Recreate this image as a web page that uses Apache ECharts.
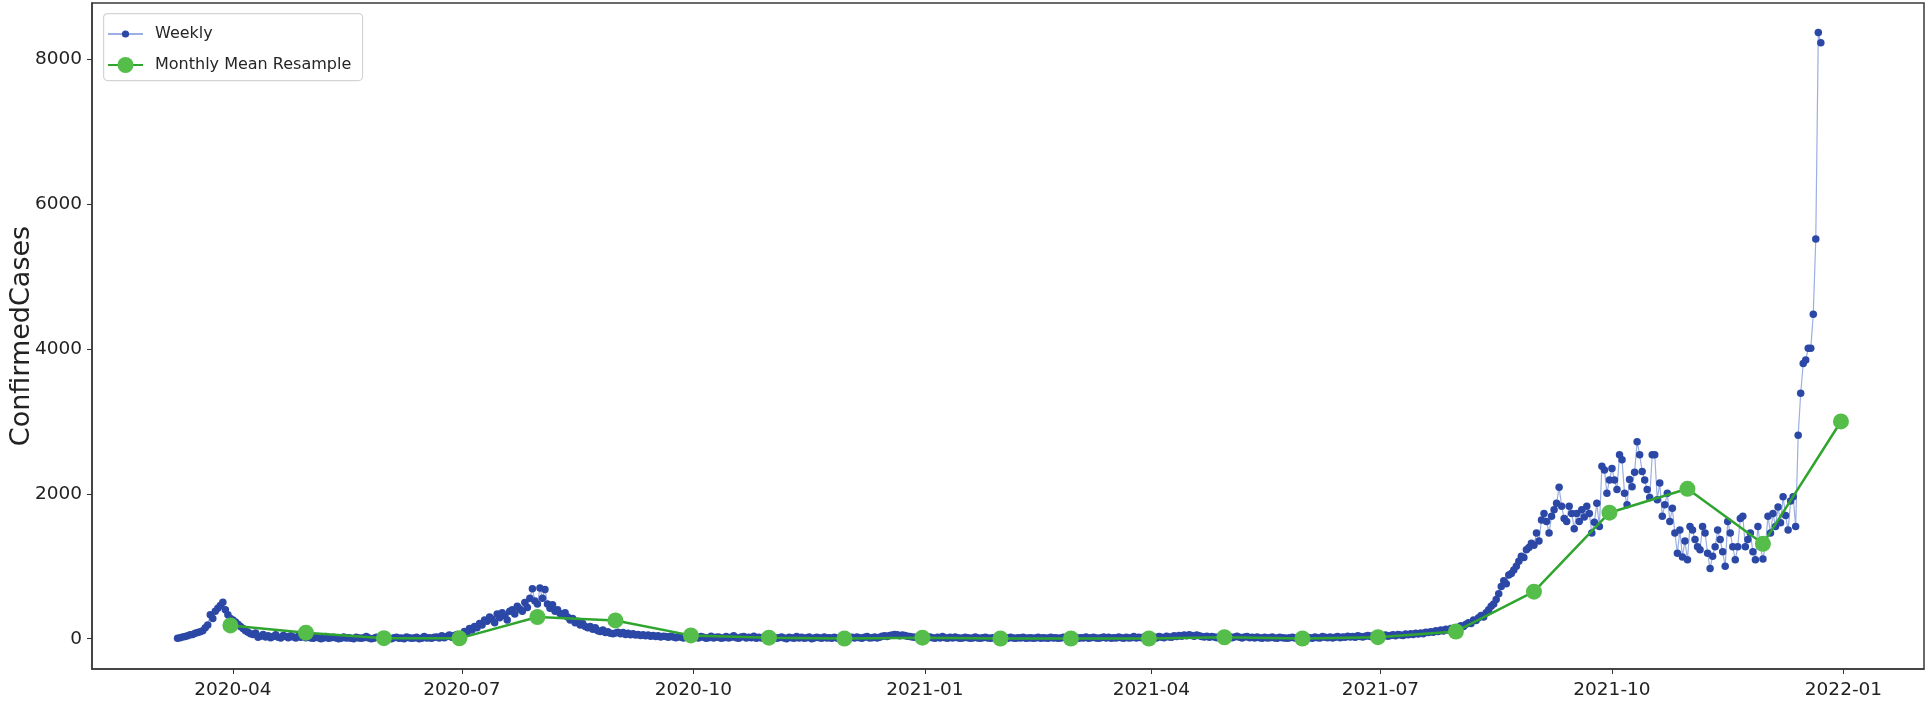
<!DOCTYPE html>
<html>
<head>
<meta charset="utf-8">
<script src="https://cdn.jsdelivr.net/npm/echarts@6/dist/echarts.min.js"></script>
<style>
html,body{margin:0;padding:0;background:#fff;}
#chart{width:1930px;height:709px;}
</style>
</head>
<body>
<div id="chart"></div>
<script>
// ---- Data (daily points of the "Weekly" series, one array per month) ----
const w2020_03 = [5,15,25,30,40,55,60,75,85,95,110,150,190,330,280,380,420,460,505,400,330,280];
const w2020_04 = [260,230,200,170,140,110,90,70,60,80,20,35,60,25,40,15,30,55,20,10,45,30,15,40,25,10,35,20,50,15];
const w2020_05 = [20,10,5,25,15,0,10,30,5,15,20,10,0,5,25,10,15,5,0,20,10,5,15,30,10,0,5,20,10,15,5];
const w2020_06 = [10,5,0,15,20,5,10,0,25,15,5,10,20,0,5,30,10,15,5,20,25,10,40,15,30,50,20,45,60,40];
const w2020_07 = [60,100,80,140,120,170,150,210,190,260,240,300,270,220,340,290,360,320,260,380,400,340,450,410,380,500,430,560,690,520,480];
const w2020_08 = [700,560,680,480,420,470,380,400,350,330,360,300,260,280,220,240,190,210,170,150,170,130,150,110,100,120,85,95,75,70,80];
const w2020_09 = [90,70,85,60,75,55,70,50,60,45,55,40,50,35,45,30,40,25,35,30,20,35,25,15,30,20,10,25,15,20];
const w2020_10 = [15,25,10,30,20,5,15,35,10,20,25,5,15,30,10,20,40,15,5,25,30,10,20,15,35,5,20,10,25,15,20];
const w2020_11 = [10,20,5,15,25,10,0,20,15,5,30,10,20,5,15,25,0,10,20,15,5,25,10,15,5,20,10,0,15,10];
const w2020_12 = [15,5,20,10,25,15,5,20,30,10,15,25,10,20,35,40,30,45,50,60,55,40,50,45,35,30,25,20,15,25,10];
const w2021_01 = [20,10,25,15,5,20,10,30,15,5,20,10,25,15,5,10,20,15,5,10,25,10,5,15,20,10,5,15,10,20,5];
const w2021_02 = [10,15,5,20,10,5,15,10,20,5,10,15,5,10,20,5,15,10,5,20,10,15,5,10,20,15,5,10];
const w2021_03 = [10,20,5,15,10,25,5,15,20,10,5,15,25,10,20,5,15,10,25,15,5,20,10,15,30,10,20,15,25,10,20];
const w2021_04 = [15,25,10,30,20,15,35,25,20,40,30,45,35,50,40,55,45,35,50,40,30,25,35,20,30,25,15,30,20,25];
const w2021_05 = [20,30,15,25,35,20,10,25,30,15,20,10,25,15,5,20,10,15,25,10,5,20,15,10,5,15,20,10,5,15,10];
const w2021_06 = [10,20,15,5,25,15,10,30,20,15,25,10,20,30,15,25,20,35,25,30,20,40,30,25,35,45,30,40,50,35];
const w2021_07 = [40,30,50,35,45,55,40,60,50,45,65,55,70,60,75,65,80,70,90,85,95,90,110,100,120,105,130,120,140,135,150];
const w2021_08 = [160,180,170,200,220,210,260,250,290,320,300,360,400,450,480,540,620,720,800,760,880,900,950,1000,1070,1140,1120,1230,1260,1320,1290];
const w2021_09 = [1460,1350,1640,1730,1620,1460,1690,1780,1870,2090,1830,1660,1620,1830,1730,1520,1730,1620,1780,1680,1830,1730,1460,1610,1870,1550,2380,2330,2010,2190];
const w2021_10 = [2350,2190,2060,2540,2470,2010,1850,2200,2100,2300,2720,2540,2310,2190,2060,1950,2540,2540,1920,2150,1690,1850,2010,1620,1800,1460,1180,1500,1130,1350,1090];
const w2021_11 = [1550,1500,1370,1270,1230,1550,1460,1180,970,1140,1270,1500,1370,1200,1000,1620,1460,1270,1090,1270,1660,1690,1270,1370,1460,1200,1090,1550,1270,1100];
const w2021_12 = [1300,1690,1460,1730,1550,1820,1600,1960,1700,1500,1900,1960,1550,2810,3390,3800,3850,4010,4010,4480,5520,8370,8230];

const weeklyMonths = [
  ['2020-03-10', w2020_03], ['2020-04-01', w2020_04], ['2020-05-01', w2020_05], ['2020-06-01', w2020_06],
  ['2020-07-01', w2020_07], ['2020-08-01', w2020_08], ['2020-09-01', w2020_09], ['2020-10-01', w2020_10],
  ['2020-11-01', w2020_11], ['2020-12-01', w2020_12], ['2021-01-01', w2021_01], ['2021-02-01', w2021_02],
  ['2021-03-01', w2021_03], ['2021-04-01', w2021_04], ['2021-05-01', w2021_05], ['2021-06-01', w2021_06],
  ['2021-07-01', w2021_07], ['2021-08-01', w2021_08], ['2021-09-01', w2021_09], ['2021-10-01', w2021_10],
  ['2021-11-01', w2021_11], ['2021-12-01', w2021_12]
];

// ---- Monthly mean resample (month-end) ----
const monthlyDates = ['2020-03-31','2020-04-30','2020-05-31','2020-06-30','2020-07-31','2020-08-31','2020-09-30','2020-10-31','2020-11-30','2020-12-31','2021-01-31','2021-02-28','2021-03-31','2021-04-30','2021-05-31','2021-06-30','2021-07-31','2021-08-31','2021-09-30','2021-10-31','2021-11-30','2021-12-31'];
const monthlyMean = [184,83,8,5,300,253,46,14,3,15,3,3,3,20,3,22,100,650,1740,2070,1310,3000];

// ---- Axis ticks ----
const xTickLabels = ['2020-04','2020-07','2020-10','2021-01','2021-04','2021-07','2021-10','2022-01'];
const yTicks = [0,2000,4000,6000,8000];
const xRange = ['2020-02-05','2022-02-02'];
const yRange = [-418, 8778];

function parseDay(s) {
  const p = s.split('-').map(Number);
  return new Date(p[0], p[1] - 1, p[2] || 1).getTime();
}

const weekly = [];
for (const [start, vals] of weeklyMonths) {
  const d = new Date(parseDay(start));
  for (const v of vals) {
    weekly.push([d.getTime(), v]);
    d.setDate(d.getDate() + 1);
  }
}
const monthly = monthlyDates.map((s, i) => [parseDay(s), monthlyMean[i]]);
const xTickValues = xTickLabels.map(parseDay);

const FONT = 'DejaVu Sans';
const chart = echarts.init(document.getElementById('chart'), null, {renderer: 'canvas'});
chart.setOption({
  animation: false,
  backgroundColor: '#fff',
  grid: {left: 92, right: 6, top: 3, bottom: 40, containLabel: false, outerBoundsMode: 'none',
         show: true, borderColor: '#3a3a3a', borderWidth: 1.5, backgroundColor: 'transparent'},
  graphic: [{
    type: 'rect', left: 103, top: 13, z: 3,
    shape: {width: 259, height: 67, r: 4},
    style: {fill: '#fff', stroke: '#d4d4d4', lineWidth: 1.2}
  }],
  legend: [{
    data: ['Weekly'], left: 107, top: 26, padding: 0, itemWidth: 35, itemHeight: 9, z: 5,
    textStyle: {fontFamily: FONT, fontSize: 16, color: '#262626', padding: [0, 0, 0, 7]}
  }, {
    data: ['Monthly Mean Resample'], left: 107, top: 57, padding: 0, itemWidth: 35, itemHeight: 20, z: 5,
    textStyle: {fontFamily: FONT, fontSize: 16, color: '#262626', padding: [0, 0, 0, 7]}
  }],
  xAxis: {
    type: 'value',
    min: parseDay(xRange[0]), max: parseDay(xRange[1]),
    splitLine: {show: false},
    axisLine: {show: true, onZero: false, lineStyle: {color: '#3a3a3a', width: 1.5}},
    axisTick: {show: true, length: 5, customValues: xTickValues, lineStyle: {color: '#333'}},
    axisLabel: {
      customValues: xTickValues,
      fontFamily: FONT, fontSize: 18.5, color: '#222', margin: 12,
      formatter: function (v) {
        const d = new Date(v);
        return d.getFullYear() + '-' + String(d.getMonth() + 1).padStart(2, '0');
      }
    }
  },
  yAxis: {
    type: 'value',
    min: yRange[0], max: yRange[1],
    name: 'ConfirmedCases', nameLocation: 'middle', nameGap: 57, nameRotate: 90, nameMoveOverlap: false,
    nameTextStyle: {fontFamily: FONT, fontSize: 27, color: '#222'},
    splitLine: {show: false},
    axisLine: {show: true, onZero: false, lineStyle: {color: '#3a3a3a', width: 1.5}},
    axisTick: {show: true, length: 5, customValues: yTicks, lineStyle: {color: '#333'}},
    axisLabel: {customValues: yTicks, fontFamily: FONT, fontSize: 18.5, color: '#222', margin: 10,
                formatter: function (v) { return String(v); }}
  },
  series: [{
    name: 'Weekly', type: 'line', data: weekly,
    showSymbol: true, showAllSymbol: true, symbol: 'circle', symbolSize: 7.5,
    itemStyle: {color: '#2c48a6'},
    lineStyle: {color: '#9cafe2', width: 1.2},
    z: 2
  }, {
    name: 'Monthly Mean Resample', type: 'line', data: monthly,
    showSymbol: true, symbol: 'circle', symbolSize: 16,
    itemStyle: {color: '#55bd4a'},
    lineStyle: {color: '#2fa52f', width: 2.5},
    z: 3
  }]
});
</script>
</body>
</html>
